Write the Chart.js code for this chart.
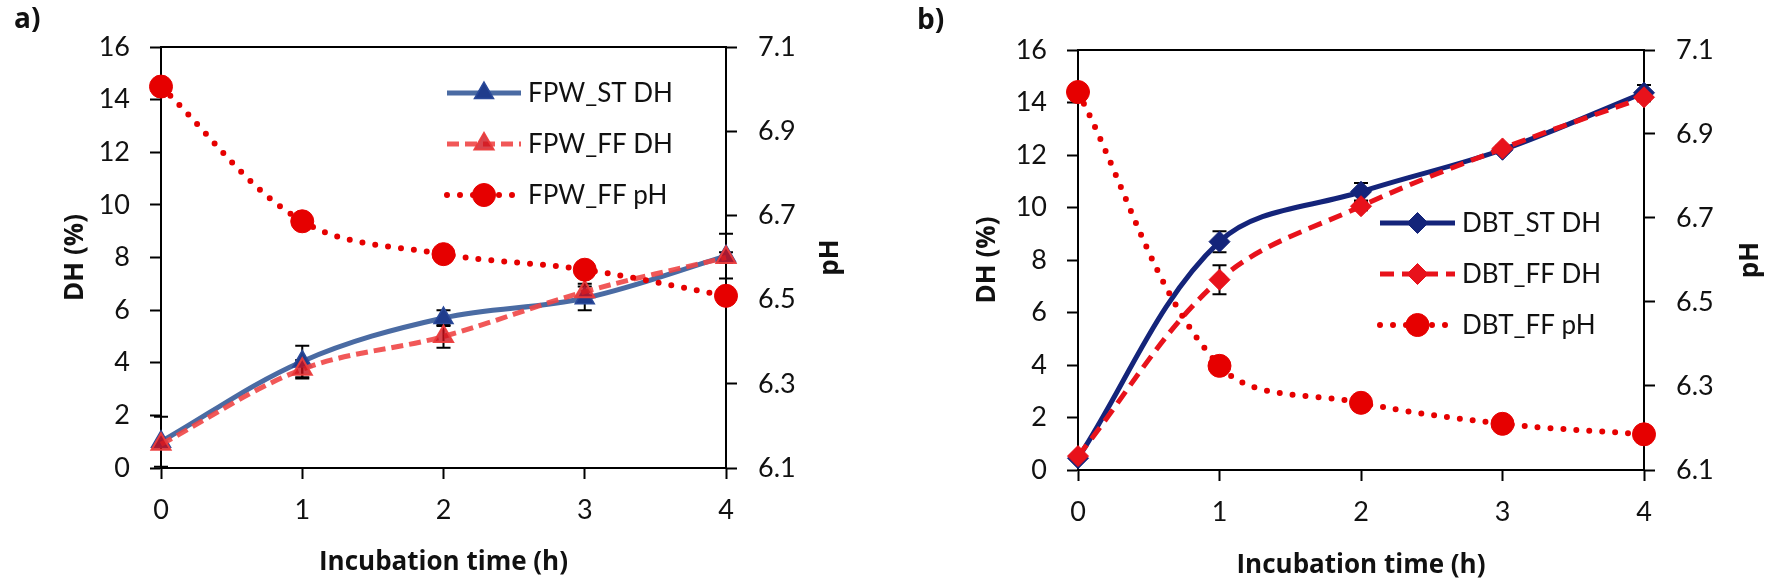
<!DOCTYPE html>
<html>
<head>
<meta charset="utf-8">
<script src="https://cdn.jsdelivr.net/npm/chart.js@4/dist/chart.umd.min.js"></script>
<style>
html,body{margin:0;padding:0;background:#fff;overflow:hidden;}
body{width:1783px;height:585px;position:relative;}
.panel{position:absolute;top:0;height:585px;}
#pa{left:0;width:891px;}
#pb{left:917px;width:866px;}
.lab{position:absolute;font:bold 28px "Open Sans", sans-serif;color:#111;line-height:34px;}
</style>
</head>
<body>
<div class="panel" id="pa"><canvas id="ca"></canvas></div>
<div class="panel" id="pb"><canvas id="cb"></canvas></div>
<div class="lab" style="left:14px;top:0px">a)</div>
<div class="lab" style="left:917px;top:1px">b)</div>
<script>
// ---- data ----
const hours   = [0, 1, 2, 3, 4];
const xTicks  = [0, 1, 2, 3, 4];
const dhTicks = [0, 2, 4, 6, 8, 10, 12, 14, 16];
const phTicks = [6.1, 6.3, 6.5, 6.7, 6.9, 7.1];

const fpwStDH  = [1.0, 4.05, 5.7, 6.45, 8.05];
const fpwStErr = [0.95, 0.6, 0.3, 0.45, 0.85];
const fpwFfDH  = [0.9, 3.75, 5.0, 6.7, 8.0];
const fpwFfErr = [0, 0.35, 0.43, 0.3, 0.2];
const fpwFfPH  = [7.006, 6.686, 6.608, 6.571, 6.509];

const dbtStDH  = [0.45, 8.7, 10.6, 12.2, 14.37];
const dbtStErr = [0, 0.4, 0.33, 0.1, 0.3];
const dbtFfDH  = [0.53, 7.25, 10.05, 12.25, 14.2];
const dbtFfErr = [0, 0.55, 0.15, 0.1, 0.15];
const dbtFfPH  = [7.0, 6.348, 6.26, 6.21, 6.185];

const labelsA = ['FPW_ST DH', 'FPW_FF DH', 'FPW_FF pH'];
const labelsB = ['DBT_ST DH', 'DBT_FF DH', 'DBT_FF pH'];

const pts = (vals) => hours.map((h, i) => ({x: h, y: vals[i]}));
const FONT = 'Lato, "Open Sans", sans-serif';
const TFONT = '"Open Sans", Lato, sans-serif';

const extras = {
  id: 'extras',
  beforeDatasetsDraw(chart) {
    const {ctx, scales} = chart;
    ctx.save();
    ctx.strokeStyle = '#000';
    ctx.lineWidth = 2;
    ctx.setLineDash([]);
    chart.data.datasets.forEach(ds => {
      if (!ds.errors) return;
      const ys = scales[ds.yAxisID || 'y'];
      ds.data.forEach((p, i) => {
        const e = ds.errors[i];
        if (!e) return;
        const px = scales.x.getPixelForValue(p.x);
        const yt = ys.getPixelForValue(p.y + e);
        const yb = ys.getPixelForValue(p.y - e);
        ctx.beginPath();
        ctx.moveTo(px, yt); ctx.lineTo(px, yb);
        ctx.moveTo(px - 7, yt); ctx.lineTo(px + 7, yt);
        ctx.moveTo(px - 7, yb); ctx.lineTo(px + 7, yb);
        ctx.stroke();
      });
    });
    ctx.restore();
  },
  afterDraw(chart, args, o) {
    const {ctx, chartArea: ca} = chart;
    ctx.save();
    // top frame line
    ctx.strokeStyle = '#000';
    ctx.lineWidth = 2;
    ctx.beginPath();
    ctx.moveTo(ca.left, ca.top);
    ctx.lineTo(ca.right, ca.top);
    ctx.stroke();
    // right axis title (rotated like the left one)
    ctx.fillStyle = '#111';
    ctx.font = 'bold 26px ' + TFONT;
    ctx.textAlign = 'center';
    ctx.textBaseline = 'middle';
    ctx.translate(ca.right + o.phTitleOffset, (ca.top + ca.bottom) / 2);
    ctx.rotate(-Math.PI / 2);
    ctx.fillText('pH', 0, 0);
    ctx.restore();

    // legend
    ctx.save();
    chart.data.datasets.forEach((ds, i) => {
      const y = o.legendY + i * o.legendGap;
      const x0 = o.legendX, x1 = o.legendX + o.legendLine;
      ctx.strokeStyle = ds.borderColor;
      ctx.lineWidth = ds.borderWidth;
      ctx.lineCap = ds.borderCapStyle || 'butt';
      ctx.setLineDash(ds.borderDash || []);
      ctx.beginPath();
      ctx.moveTo(x0, y); ctx.lineTo(x1, y);
      ctx.stroke();
      ctx.setLineDash([]);
      ctx.lineCap = 'butt';
      ctx.fillStyle = ds.pointBackgroundColor;
      ctx.strokeStyle = ds.pointBorderColor;
      ctx.lineWidth = ds.pointBorderWidth;
      Chart.helpers.drawPoint(ctx, {pointStyle: ds.pointStyle, radius: ds.pointRadius, rotation: 0, borderWidth: ds.pointBorderWidth}, (x0 + x1) / 2, y);
      ctx.fillStyle = '#111';
      ctx.font = '26px ' + FONT;
      ctx.textAlign = 'left';
      ctx.textBaseline = 'middle';
      ctx.fillText(ds.label, x1 + 7, y + 1);
    });
    ctx.restore();
  }
};

function makeChart(id, cfg) {
  return new Chart(document.getElementById(id), {
    type: 'line',
    data: { datasets: cfg.datasets },
    options: {
      responsive: true,
      maintainAspectRatio: false,
      devicePixelRatio: 1,
      animation: false,
      events: [],
      layout: { padding: { top: cfg.top, left: 0, right: 0, bottom: 0 } },
      plugins: {
        legend: { display: false },
        tooltip: { enabled: false },
        extras: cfg.extras
      },
      elements: { line: { tension: 0.35 } },
      scales: {
        x: {
          type: 'linear', min: 0, max: 4,
          afterBuildTicks: s => { s.ticks = xTicks.map(v => ({value: v})); },
          afterFit: s => { s.height = cfg.xH; },
          grid: { drawOnChartArea: false, drawTicks: true, tickLength: 11, tickWidth: 2, tickColor: '#000' },
          border: { display: true, color: '#000', width: 2 },
          ticks: { color: '#111', font: { family: FONT, size: 27 }, padding: 15, maxRotation: 0 },
          title: { display: true, text: 'Incubation time (h)', color: '#111',
                   font: { family: TFONT, size: 26, weight: 'bold' }, padding: { top: 0, bottom: cfg.xTitlePad } }
        },
        y: {
          position: 'left', min: 0, max: 16,
          afterBuildTicks: s => { s.ticks = dhTicks.map(v => ({value: v})); },
          afterFit: s => { s.width = cfg.yW; },
          grid: { drawOnChartArea: false, drawTicks: true, tickLength: 11, tickWidth: 2, tickColor: '#000' },
          border: { display: true, color: '#000', width: 2 },
          ticks: { color: '#111', font: { family: FONT, size: 27 }, padding: 20 },
          title: { display: true, text: 'DH (%)', color: '#111',
                   font: { family: TFONT, size: 26, weight: 'bold' }, padding: { top: cfg.yTitlePad, bottom: 0 } }
        },
        y2: {
          position: 'right', min: 6.1, max: 7.1,
          afterBuildTicks: s => { s.ticks = phTicks.map(v => ({value: v})); },
          afterFit: s => { s.width = cfg.y2W; },
          grid: { drawOnChartArea: false, drawTicks: true, tickLength: 11, tickWidth: 2, tickColor: '#000' },
          border: { display: true, color: '#000', width: 2 },
          ticks: { color: '#111', font: { family: FONT, size: 27 }, padding: 21, callback: v => Number(v).toFixed(1) },
          title: { display: false }
        }
      }
    },
    plugins: [extras]
  });
}

const phStyle = {
  yAxisID: 'y2', borderColor: '#E60000', borderWidth: 6, borderDash: [0, 13], borderCapStyle: 'round',
  pointStyle: 'circle', pointRadius: 11.5, pointBackgroundColor: '#E60000', pointBorderColor: '#E60000', pointBorderWidth: 1,
  clip: false, order: 1
};

makeChart('ca', {
  top: 47, xH: 117, yW: 161, y2W: 165, xTitlePad: 7, yTitlePad: 60,
  extras: { legendX: 447, legendY: 93, legendGap: 51, legendLine: 74, phTitleOffset: 105 },
  datasets: [
    { label: labelsA[0], data: pts(fpwStDH), errors: fpwStErr, yAxisID: 'y',
      borderColor: '#4A6BA3', borderWidth: 5, pointStyle: 'triangle', pointRadius: 11,
      pointBackgroundColor: '#1F3C8C', pointBorderColor: '#2B4A9A', pointBorderWidth: 1.5, clip: false, order: 3 },
    { label: labelsA[1], data: pts(fpwFfDH), errors: fpwFfErr, yAxisID: 'y',
      borderColor: 'rgba(240,70,70,0.9)', borderWidth: 5, borderDash: [12, 6], pointStyle: 'triangle', pointRadius: 11,
      pointBackgroundColor: 'rgba(205,15,25,0.78)', pointBorderColor: 'rgba(235,60,60,0.95)', pointBorderWidth: 2, clip: false, order: 2 },
    Object.assign({ label: labelsA[2], data: pts(fpwFfPH) }, phStyle)
  ]
});

makeChart('cb', {
  top: 50, xH: 115, yW: 161, y2W: 139, xTitlePad: 4, yTitlePad: 55,
  extras: { legendX: 463, legendY: 223, legendGap: 51, legendLine: 75, phTitleOffset: 107 },
  datasets: [
    { label: labelsB[0], data: pts(dbtStDH), errors: dbtStErr, yAxisID: 'y',
      borderColor: '#14247A', borderWidth: 5, pointStyle: 'rectRot', pointRadius: 10.5,
      pointBackgroundColor: '#14247A', pointBorderColor: '#14247A', pointBorderWidth: 1, clip: false, order: 3 },
    { label: labelsB[1], data: pts(dbtFfDH), errors: dbtFfErr, yAxisID: 'y',
      borderColor: '#E8121B', borderWidth: 5, borderDash: [14, 8], pointStyle: 'rectRot', pointRadius: 10.5,
      pointBackgroundColor: '#E8121B', pointBorderColor: '#E8121B', pointBorderWidth: 1, clip: false, order: 2 },
    Object.assign({ label: labelsB[2], data: pts(dbtFfPH) }, phStyle)
  ]
});
</script>
</body>
</html>
